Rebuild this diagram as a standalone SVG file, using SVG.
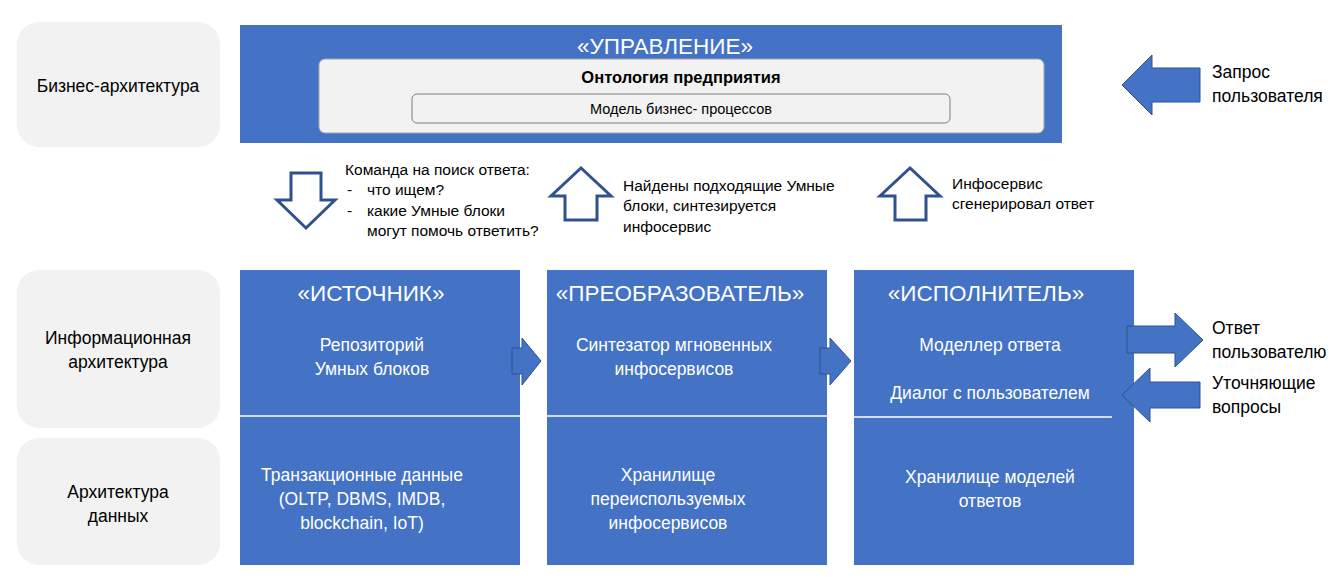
<svg xmlns="http://www.w3.org/2000/svg" width="1339" height="584" viewBox="0 0 1339 584">
<style>
text{font-family:"Liberation Sans",Arial,sans-serif}
.lbl{fill:#f2f2f2}
.lt{font-size:17.5px;fill:#000;text-anchor:middle}
.blue{fill:#4472c4}
.ttl{font-size:22.5px;fill:#fff;text-anchor:middle}
.w{font-size:17.5px;fill:#fff;text-anchor:middle}
.k{font-size:15.5px;fill:#000}
.r{font-size:17.5px;fill:#000}
.ko{fill:#fff;stroke:#2f528f;stroke-width:3}
.fa{fill:#4472c4;stroke:#2f528f;stroke-width:1}
.sep{stroke:#fff;stroke-width:1.5}
</style>
<rect width="1339" height="584" fill="#fff"/>
<g id="lane-business"><rect class="lbl" x="17" y="22" width="203" height="125" rx="22"/><text class="lt" x="118" y="92">Бизнес-архитектура</text></g>
<g id="lane-info"><rect class="lbl" x="17" y="270" width="203" height="158" rx="22"/><text class="lt" x="118" y="344">Информационная</text><text class="lt" x="118" y="368">архитектура</text></g>
<g id="lane-data"><rect class="lbl" x="17" y="438" width="203" height="127" rx="22"/><text class="lt" x="118" y="498">Архитектура</text><text class="lt" x="118" y="522">данных</text></g>
<g id="upravlenie">
<rect class="blue" x="240" y="25" width="822" height="118"/>
<text class="ttl" x="665" y="54">«УПРАВЛЕНИЕ»</text>
<rect x="319" y="59" width="725" height="74" rx="6" fill="#f2f2f2" stroke="#a6a6a6"/>
<text x="681" y="83" font-size="16.5" font-weight="bold" text-anchor="middle">Онтология предприятия</text>
<rect x="412" y="94" width="538" height="29" rx="5" fill="#f2f2f2" stroke="#7f7f7f"/>
<text x="681" y="114" font-size="14.5" text-anchor="middle">Модель бизнес- процессов</text>
</g>
<g id="istochnik">
<rect class="blue" x="240" y="270" width="280" height="295"/>
<text class="ttl" x="371" y="301">«ИСТОЧНИК»</text>
<text class="w" x="372" y="351">Репозиторий</text><text class="w" x="372" y="375">Умных блоков</text>
<line class="sep" x1="240" y1="416" x2="520" y2="416"/>
<text class="w" x="362" y="481">Транзакционные данные</text><text class="w" x="362" y="505">(OLTP, DBMS, IMDB,</text><text class="w" x="362" y="529">blockchain, IoT)</text>
</g>
<g id="preobrazovatel">
<rect class="blue" x="547" y="270" width="280" height="295"/>
<text class="ttl" x="680" y="301">«ПРЕОБРАЗОВАТЕЛЬ»</text>
<text class="w" x="674" y="351">Синтезатор мгновенных</text><text class="w" x="674" y="375">инфосервисов</text>
<line class="sep" x1="547" y1="416" x2="827" y2="416"/>
<text class="w" x="668" y="481">Хранилище</text><text class="w" x="668" y="505">переиспользуемых</text><text class="w" x="668" y="529">инфосервисов</text>
</g>
<g id="ispolnitel">
<rect class="blue" x="854" y="270" width="280" height="295"/>
<text class="ttl" x="986" y="301">«ИСПОЛНИТЕЛЬ»</text>
<text class="w" x="990" y="351">Моделлер ответа</text>
<text class="w" x="990" y="399">Диалог с пользователем</text>
<line class="sep" x1="854" y1="417" x2="1112" y2="417"/>
<text class="w" x="990" y="483">Хранилище моделей</text><text class="w" x="990" y="507">ответов</text>
</g>
<g id="connectors">
<polygon class="fa" points="1200,68 1152,68 1152,55 1122,85 1152,115 1152,102 1200,102"/>
<polygon class="ko" points="291,173 321,173 321,200 335,200 306,228 277,200 291,200"/>
<polygon class="ko" points="565,220 597,220 597,196 611,196 581,168 551,196 565,196"/>
<polygon class="ko" points="895,220 926,220 926,196 940,196 910,168 880,196 895,196"/>
<polygon class="fa" points="512,348 522,348 522,338 541,361 522,385 522,374 512,374"/>
<polygon class="fa" points="820,348 830,348 830,338 851,361 830,385 830,374 820,374"/>
<polygon class="fa" points="1127,326 1175,326 1175,313 1203,340 1175,367 1175,353 1127,353"/>
<polygon class="fa" points="1200,382 1150,382 1150,368 1122,395 1150,422 1150,408 1200,408"/>
</g>
<g id="labels">
<text class="k" x="345" y="175">Команда на поиск ответа:</text>
<text class="k" x="347" y="195">-</text><text class="k" x="367" y="195">что ищем?</text>
<text class="k" x="347" y="216">-</text><text class="k" x="367" y="216">какие Умные блоки</text>
<text class="k" x="367" y="236">могут помочь ответить?</text>
<text class="k" x="623" y="191">Найдены подходящие Умные</text>
<text class="k" x="623" y="211">блоки, синтезируется</text>
<text class="k" x="623" y="232">инфосервис</text>
<text class="k" x="952" y="189">Инфосервис</text>
<text class="k" x="952" y="209">сгенерировал ответ</text>
<text class="r" x="1212" y="78">Запрос</text><text class="r" x="1212" y="102">пользователя</text>
<text class="r" x="1212" y="334">Ответ</text><text class="r" x="1212" y="358">пользователю</text>
<text class="r" x="1212" y="389">Уточняющие</text><text class="r" x="1212" y="413">вопросы</text>
</g>
</svg>
